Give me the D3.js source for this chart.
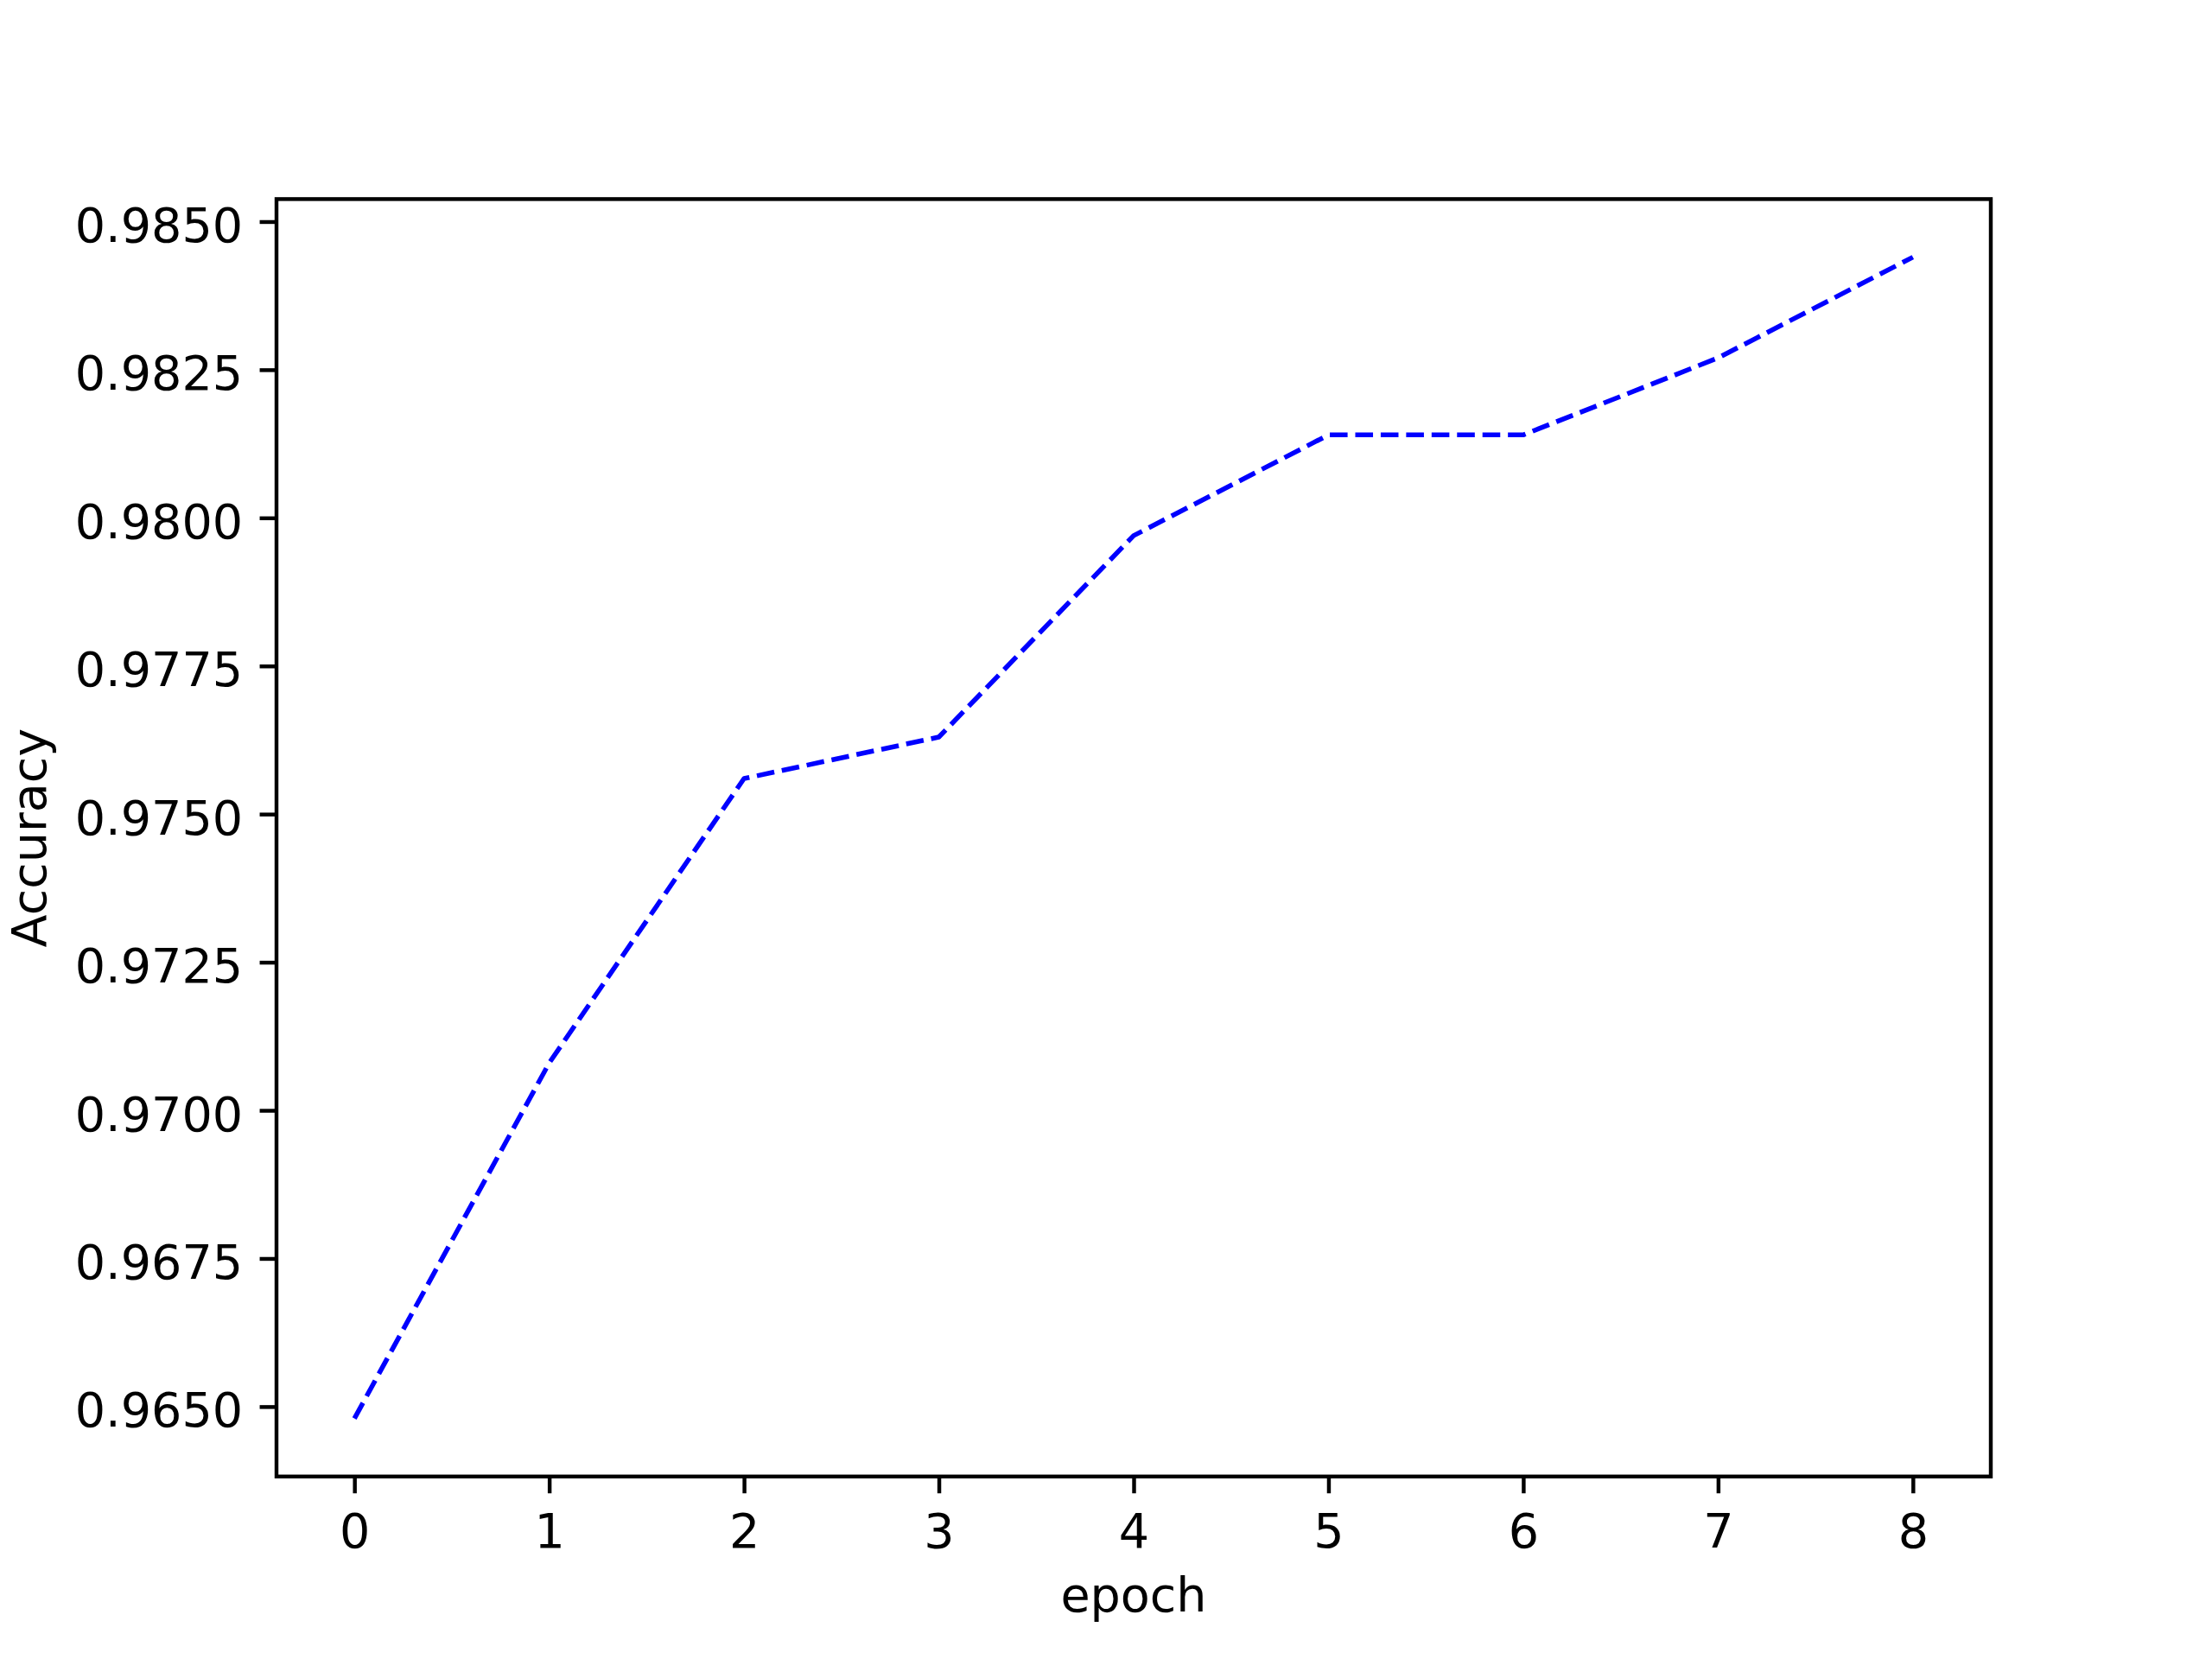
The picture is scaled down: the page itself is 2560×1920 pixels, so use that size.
<!DOCTYPE html>
<html>
<head>
<meta charset="utf-8">
<script src="https://cdn.jsdelivr.net/npm/d3@7"></script>
<style>
  html, body { margin: 0; padding: 0; background: #fff; }
  text { font-family: "DejaVu Sans", sans-serif; fill: #000; }
</style>
</head>
<body>
<svg id="chart" width="2560" height="1920"></svg>
<script>
// data
const epochs = [0, 1, 2, 3, 4, 5, 6, 7, 8];
const accuracy = [0.9648, 0.9708, 0.9756, 0.9763, 0.9797, 0.9814, 0.9814, 0.9827, 0.9844];
const yTicks = [0.9650, 0.9675, 0.9700, 0.9725, 0.9750, 0.9775, 0.9800, 0.9825, 0.9850];
const xLabel = 'epoch';
const yLabel = 'Accuracy';

const W = 2560, H = 1920;
const pt = 400 / 72; // figure drawn at 400 dpi
const margin = {left: 0.125 * W, right: 0.1 * W, top: 0.12 * H, bottom: 0.11 * H};
const iw = W - margin.left - margin.right;
const ih = H - margin.top - margin.bottom;

const svg = d3.select('#chart');
const g = svg.append('g').attr('transform', `translate(${margin.left},${margin.top})`);

// matplotlib-style 5% margins
const xExt = d3.extent(epochs), yExt = d3.extent(accuracy);
const xPad = (xExt[1] - xExt[0]) * 0.05, yPad = (yExt[1] - yExt[0]) * 0.05;

const x = d3.scaleLinear().domain([xExt[0] - xPad, xExt[1] + xPad]).range([0, iw]);
const y = d3.scaleLinear().domain([yExt[0] - yPad, yExt[1] + yPad]).range([ih, 0]);

const tickLen = 3.5 * pt;
const fontPx = 10 * pt;

// the line
const line = d3.line().x((d, i) => x(epochs[i])).y(d => y(d));
g.append('path')
  .datum(accuracy)
  .attr('d', line)
  .attr('fill', 'none')
  .attr('stroke', '#0000ff')
  .attr('stroke-width', 1 * pt)
  .attr('stroke-dasharray', `${3.7 * pt},${1.6 * pt}`)
  .attr('stroke-linecap', 'butt')
  .attr('stroke-linejoin', 'round');

// axes
const xAxis = g.append('g')
  .attr('transform', `translate(0,${ih})`)
  .call(d3.axisBottom(x).tickValues(epochs).tickFormat(d3.format('d'))
    .tickSize(tickLen).tickSizeOuter(0).tickPadding(0));

const yAxis = g.append('g')
  .call(d3.axisLeft(y).tickValues(yTicks).tickFormat(d3.format('.4f'))
    .tickSize(tickLen).tickSizeOuter(0).tickPadding(0));

[xAxis, yAxis].forEach(a => {
  a.select('.domain').remove();
  a.selectAll('.tick line').attr('stroke', '#000').attr('stroke-width', 0.8 * pt);
  a.selectAll('.tick text')
    .attr('font-family', '"DejaVu Sans", sans-serif')
    .attr('font-size', fontPx)
    .attr('fill', '#000');
});
xAxis.selectAll('.tick text').attr('y', 82).attr('dy', null);
yAxis.selectAll('.tick text').attr('x', -2 * tickLen).attr('dy', 23);

// frame
g.append('rect')
  .attr('width', iw).attr('height', ih)
  .attr('fill', 'none')
  .attr('stroke', '#000')
  .attr('stroke-width', 0.8 * pt)
  .attr('stroke-linejoin', 'miter');

// axis labels
g.append('text')
  .attr('x', iw / 2).attr('y', ih + 156)
  .attr('text-anchor', 'middle')
  .attr('font-size', fontPx)
  .text(xLabel);

svg.append('text')
  .attr('transform', `translate(53,${margin.top + ih / 2}) rotate(-90)`)
  .attr('text-anchor', 'middle')
  .attr('font-size', fontPx)
  .text(yLabel);
</script>
</body>
</html>
